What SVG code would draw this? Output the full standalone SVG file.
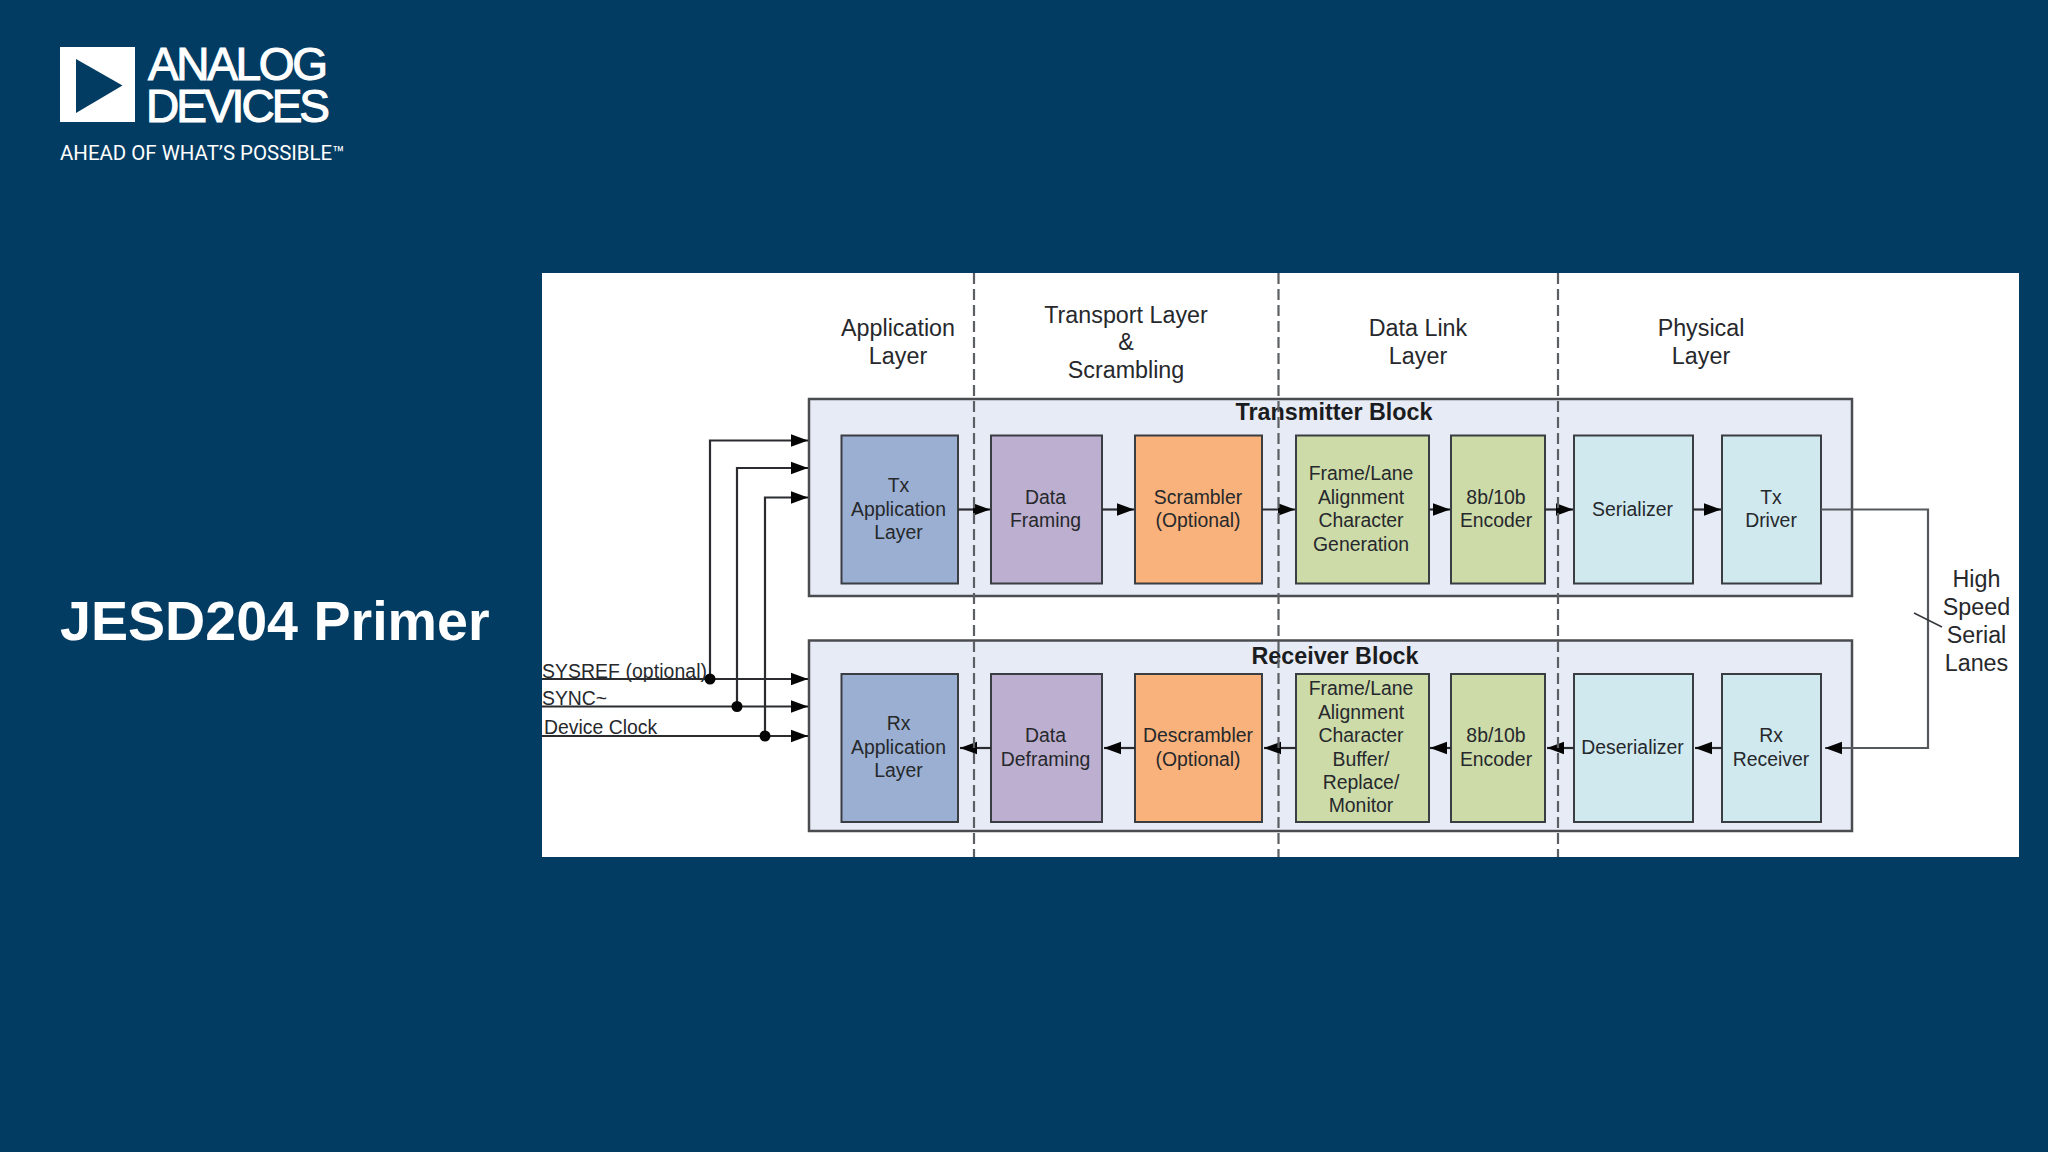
<svg xmlns="http://www.w3.org/2000/svg" width="2048" height="1152" viewBox="0 0 2048 1152">
<style>
text{font-family:"Liberation Sans",Arial,sans-serif;fill:#26282c}
.b{fill:#e7ebf6;stroke:#4a4c50;stroke-width:2.5}
.n{stroke:#3a3d42;stroke-width:2}
.t{font-size:19.4px;text-anchor:middle}
.h{font-size:23.3px;text-anchor:middle}
.l{font-size:19.4px}
.bt{font-size:23.3px;font-weight:bold;text-anchor:middle;fill:#1a1c20}
.w{stroke:#2a2c30;stroke-width:2.2;fill:none}
.a{marker-end:url(#ah)}
.d{stroke:#5c5f63;stroke-width:2.2;stroke-dasharray:11 5;fill:none}
.logo{font-size:46px;fill:#fff;stroke:#fff;stroke-width:1.1}
</style>
<defs>
<marker id="ah" markerUnits="userSpaceOnUse" markerWidth="18" markerHeight="14" refX="17" refY="7" orient="auto"><path d="M0,0.7L17,7L0,13.3z" fill="#050505"/></marker>
</defs>
<rect width="2048" height="1152" fill="#033c63"/>
<g id="logo">
<rect x="60" y="47" width="75" height="75" fill="#fff"/>
<path d="M76,59L122.500,85.500L76,113z" fill="#033c63"/>
<text class="logo" x="148" y="80" textLength="180" lengthAdjust="spacing">ANALOG</text>
<text class="logo" x="146" y="122" textLength="184" lengthAdjust="spacing">DEVICES</text>
<text x="60" y="160" textLength="285" lengthAdjust="spacingAndGlyphs" style="font-family:Roboto,sans-serif;font-size:19.500px;fill:#fff">AHEAD OF WHAT’S POSSIBLE™</text>
</g>
<text id="title" x="60" y="640" style="font-size:55.600px;font-weight:bold;fill:#fff">JESD204 Primer</text>
<rect id="panel" x="542" y="273" width="1477" height="584" fill="#fff"/>
<g id="layer-labels">
<g id="layer-application"><text class="h" x="898" y="336">Application</text><text class="h" x="898" y="364">Layer</text></g>
<g id="layer-transport"><text class="h" x="1126" y="322.500">Transport Layer</text><text class="h" x="1126" y="350">&amp;</text><text class="h" x="1126" y="378">Scrambling</text></g>
<g id="layer-datalink"><text class="h" x="1418" y="336">Data Link</text><text class="h" x="1418" y="364">Layer</text></g>
<g id="layer-physical"><text class="h" x="1701" y="336">Physical</text><text class="h" x="1701" y="364">Layer</text></g>
</g>
<g id="transmitter-block"><rect class="b" x="809" y="399" width="1043" height="197"/><text class="bt" x="1334" y="419.500">Transmitter Block</text></g>
<g id="receiver-block"><rect class="b" x="809" y="640.500" width="1043" height="190.500"/><text class="bt" x="1335" y="664">Receiver Block</text></g>
<g id="tx-app"><rect class="n" x="841.500" y="435.500" width="116.500" height="148" fill="#9aafd1"/><text class="t" x="898.500" y="492">Tx</text><text class="t" x="898.500" y="515.500">Application</text><text class="t" x="898.500" y="539">Layer</text></g>
<g id="tx-framing"><rect class="n" x="991" y="435.500" width="111" height="148" fill="#bdafcf"/><text class="t" x="1045.500" y="503.500">Data</text><text class="t" x="1045.500" y="527">Framing</text></g>
<g id="tx-scrambler"><rect class="n" x="1135" y="435.500" width="127" height="148" fill="#f9b27b"/><text class="t" x="1198" y="503.500">Scrambler</text><text class="t" x="1198" y="527">(Optional)</text></g>
<g id="tx-frame"><rect class="n" x="1296" y="435.500" width="133" height="148" fill="#cddba9"/><text class="t" x="1361" y="480">Frame/Lane</text><text class="t" x="1361" y="503.500">Alignment</text><text class="t" x="1361" y="527">Character</text><text class="t" x="1361" y="550.500">Generation</text></g>
<g id="tx-encoder"><rect class="n" x="1451" y="435.500" width="94" height="148" fill="#cddba9"/><text class="t" x="1496" y="503.500">8b/10b</text><text class="t" x="1496" y="527">Encoder</text></g>
<g id="tx-serializer"><rect class="n" x="1574" y="435.500" width="119" height="148" fill="#cfe9ee"/><text class="t" x="1632.500" y="515.500">Serializer</text></g>
<g id="tx-driver"><rect class="n" x="1722" y="435.500" width="99" height="148" fill="#cfe9ee"/><text class="t" x="1771" y="503.500">Tx</text><text class="t" x="1771" y="527">Driver</text></g>
<g id="rx-app"><rect class="n" x="841.500" y="674" width="116.500" height="148" fill="#9aafd1"/><text class="t" x="898.500" y="730">Rx</text><text class="t" x="898.500" y="753.500">Application</text><text class="t" x="898.500" y="777">Layer</text></g>
<g id="rx-deframing"><rect class="n" x="991" y="674" width="111" height="148" fill="#bdafcf"/><text class="t" x="1045.500" y="742">Data</text><text class="t" x="1045.500" y="765.500">Deframing</text></g>
<g id="rx-descrambler"><rect class="n" x="1135" y="674" width="127" height="148" fill="#f9b27b"/><text class="t" x="1198" y="742">Descrambler</text><text class="t" x="1198" y="765.500">(Optional)</text></g>
<g id="rx-frame"><rect class="n" x="1296" y="674" width="133" height="148" fill="#cddba9"/><text class="t" x="1361" y="695">Frame/Lane</text><text class="t" x="1361" y="718.500">Alignment</text><text class="t" x="1361" y="742">Character</text><text class="t" x="1361" y="765.500">Buffer/</text><text class="t" x="1361" y="789">Replace/</text><text class="t" x="1361" y="812">Monitor</text></g>
<g id="rx-encoder"><rect class="n" x="1451" y="674" width="94" height="148" fill="#cddba9"/><text class="t" x="1496" y="742">8b/10b</text><text class="t" x="1496" y="765.500">Encoder</text></g>
<g id="rx-deserializer"><rect class="n" x="1574" y="674" width="119" height="148" fill="#cfe9ee"/><text class="t" x="1632.500" y="754">Deserializer</text></g>
<g id="rx-receiver"><rect class="n" x="1722" y="674" width="99" height="148" fill="#cfe9ee"/><text class="t" x="1771" y="742">Rx</text><text class="t" x="1771" y="765.500">Receiver</text></g>
<g id="signal-labels">
<text class="l" x="542" y="678" textLength="165">SYSREF (optional)</text>
<text class="l" x="542" y="705">SYNC~</text>
<text class="l" x="544" y="733.500">Device Clock</text>
</g>
<g id="lanes-label">
<text class="h" x="1976.500" y="587">High</text><text class="h" x="1976.500" y="615">Speed</text><text class="h" x="1976.500" y="642.500">Serial</text><text class="h" x="1976.500" y="670.500">Lanes</text>
</g>
<g id="connectors">
<path class="w a" d="M542,679H808"/>
<path class="w a" d="M542,706.500H808"/>
<path class="w a" d="M542,736H808"/>
<path class="w a" d="M710,679V440.500H808"/>
<path class="w a" d="M737,706.500V468H808"/>
<path class="w a" d="M765,736V497.500H808"/>
<circle cx="710" cy="679" r="5.500" fill="#050505"/>
<circle cx="737" cy="706.500" r="5.500" fill="#050505"/>
<circle cx="765" cy="736" r="5.500" fill="#050505"/>
<path class="w a" d="M958,509.500H990"/>
<path class="w a" d="M1102,509.500H1134"/>
<path class="w a" d="M1262,509.500H1295"/>
<path class="w a" d="M1429,509.500H1450"/>
<path class="w a" d="M1545,509.500H1573"/>
<path class="w a" d="M1693,509.500H1721"/>
<path class="w a" d="M1821,509.500H1928V748H1825" style="stroke:#55585c"/>
<path class="w a" d="M991,748H960"/>
<path class="w a" d="M1135,748H1104"/>
<path class="w a" d="M1296,748H1264"/>
<path class="w a" d="M1451,748H1430"/>
<path class="w a" d="M1574,748H1547"/>
<path class="w a" d="M1722,748H1695"/>
<path d="M1914,613L1942,627" stroke="#33363a" stroke-width="1.500" fill="none"/>
<path class="d" d="M974,273V857"/>
<path class="d" d="M1278.500,273V857"/>
<path class="d" d="M1558,273V857"/>
</g>
</svg>
